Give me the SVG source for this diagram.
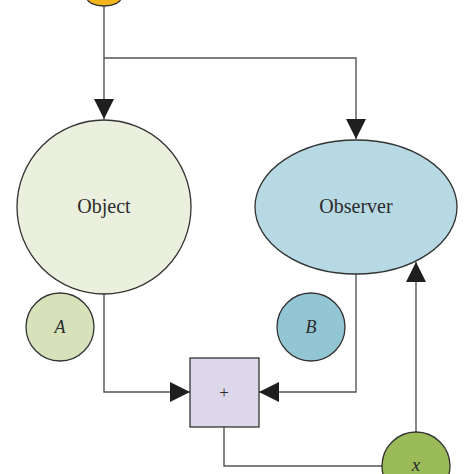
<svg xmlns="http://www.w3.org/2000/svg" width="474" height="474" viewBox="0 0 474 474">
<defs>
<style>
.node{stroke:#333;stroke-width:1.3}
.conn{fill:none;stroke:#555;stroke-width:1.4}
.lbl{font-family:"Liberation Serif","DejaVu Serif",serif;fill:#2b2b2b;text-anchor:middle}
.it{font-style:italic}
</style>
<marker id="arr" viewBox="0 0 20 20" refX="20" refY="10" markerWidth="20" markerHeight="20" markerUnits="userSpaceOnUse" orient="auto">
<path d="M0,0 L20,10 L0,20 Z" fill="#1e1e1e"/>
</marker>
</defs>
<rect width="474" height="474" fill="#fff"/>
<g id="connectors">
<path class="conn" d="M104,5 V119" marker-end="url(#arr)"/>
<path class="conn" d="M104,58 H356 V139" marker-end="url(#arr)"/>
<path class="conn" d="M104,294 V392 H190" marker-end="url(#arr)"/>
<path class="conn" d="M356,274 V392 H259" marker-end="url(#arr)"/>
<path class="conn" d="M224,427 V466 H382"/>
<path class="conn" d="M416,432 V262" marker-end="url(#arr)"/>
</g>
<g id="source">
<ellipse class="node" cx="104" cy="-2" rx="17" ry="8" fill="#f2b51c" stroke="#a07a10"/>
</g>
<g id="object">
<circle class="node" cx="104" cy="207" r="87" fill="#eaf0dd"/>
<text class="lbl" x="104" y="213" font-size="20">Object</text>
</g>
<g id="observer">
<ellipse class="node" cx="356" cy="207" rx="101" ry="67" fill="#b7d9e4"/>
<text class="lbl" x="356" y="213" font-size="20">Observer</text>
</g>
<g id="A">
<circle class="node" cx="60" cy="327" r="34" fill="#d7e2bb"/>
<text class="lbl it" x="60" y="333" font-size="18">A</text>
</g>
<g id="B">
<circle class="node" cx="311" cy="327" r="34" fill="#93c6d4"/>
<text class="lbl it" x="311" y="333" font-size="18">B</text>
</g>
<g id="plus">
<rect class="node" x="190" y="358" width="69" height="69" fill="#dcd8e9" stroke="#555"/>
<text class="lbl" x="224" y="398" font-size="17">+</text>
</g>
<g id="x">
<circle class="node" cx="416" cy="466" r="34" fill="#9bbb59"/>
<text class="lbl it" x="416" y="471" font-size="19">x</text>
</g>
</svg>
